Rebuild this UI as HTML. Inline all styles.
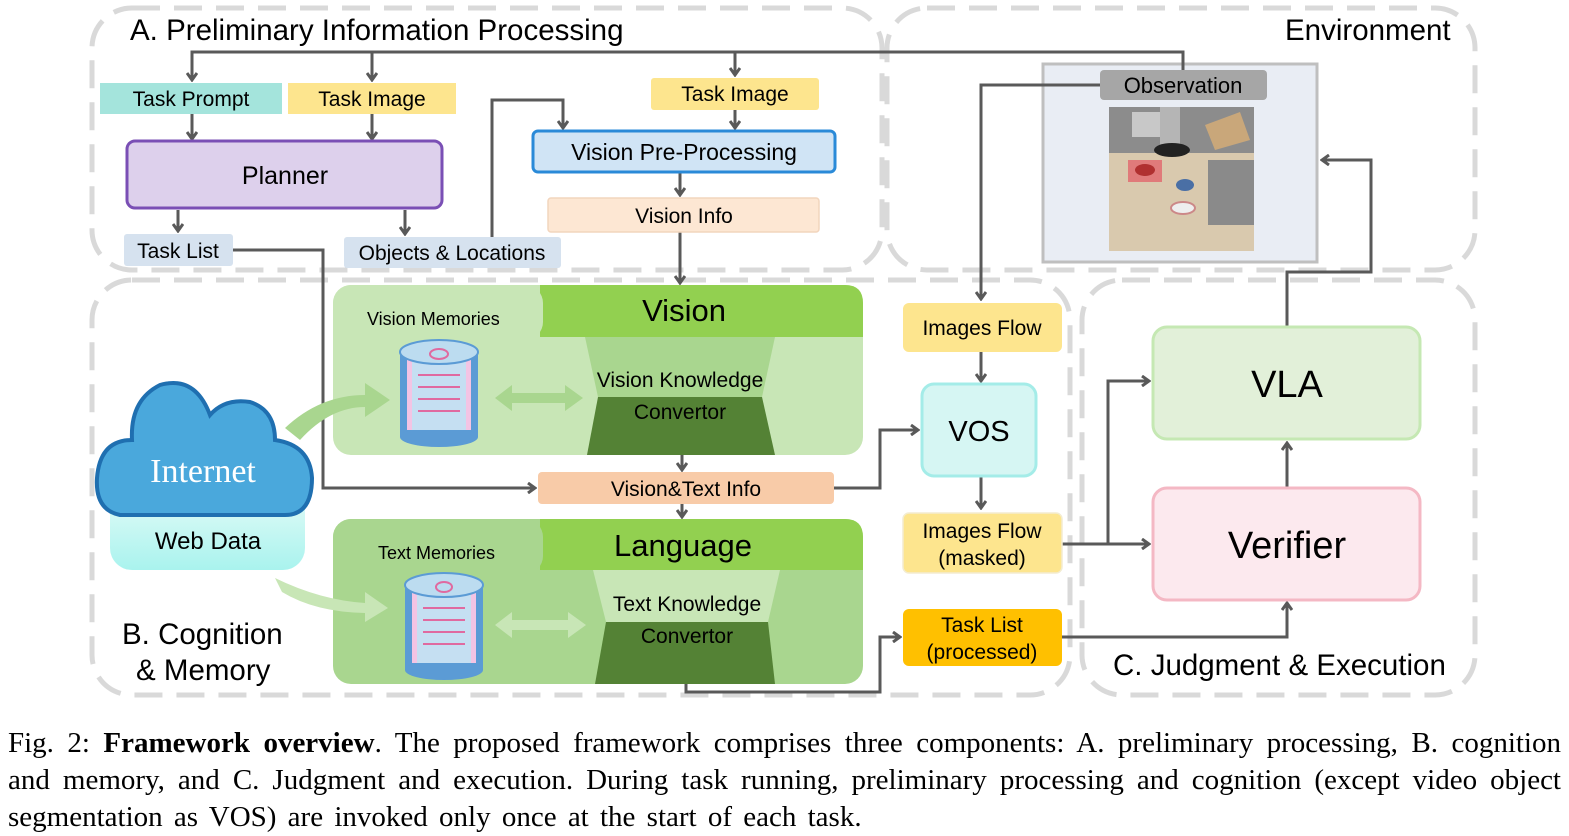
<!DOCTYPE html>
<html><head><meta charset="utf-8"><style>
html,body{margin:0;padding:0;background:#fff;}
svg{display:block;}
.t{font-family:"Liberation Sans",sans-serif;fill:#000;}
.cap{position:absolute;left:8px;width:1553px;font-family:"Liberation Serif",serif;font-size:29px;line-height:37px;text-align:justify;text-align-last:justify;color:#000;white-space:nowrap;}
</style></head><body>
<div style="position:relative;width:1569px;height:836px;overflow:hidden">
<svg width="1569" height="836" viewBox="0 0 1569 836" xmlns="http://www.w3.org/2000/svg">
<defs>
<marker id="a" markerWidth="10" markerHeight="12" refX="8" refY="6" orient="auto" markerUnits="userSpaceOnUse">
<polyline points="1,1 8,6 1,11" fill="none" stroke="#595959" stroke-width="3"/>
</marker>
<linearGradient id="wd" x1="0" y1="0" x2="0" y2="1"><stop offset="0" stop-color="#e4fbf7"/><stop offset="1" stop-color="#a9f3ee"/></linearGradient>
</defs>
<g fill="none" stroke="#d9d9d9" stroke-width="5" stroke-dasharray="28 14">
<rect x="92" y="8" width="790" height="262" rx="40"/>
<rect x="887" y="8" width="588" height="262" rx="40"/>
<rect x="92" y="280" width="978" height="415" rx="40"/>
<rect x="1082" y="280" width="393" height="415" rx="40"/>
</g>
<text class="t" x="130" y="40" font-size="29.5">A. Preliminary Information Processing</text>
<text class="t" x="1285" y="40" font-size="29.5">Environment</text>

<rect x="1043" y="64" width="274" height="198" fill="#e9edf4" stroke="#bfbfbf" stroke-width="3"/>
<rect x="1109" y="107" width="145" height="144" fill="#d9c9ae"/>
<rect x="1109" y="107" width="145" height="46" fill="#8c8c8c"/>
<rect x="1132" y="112" width="30" height="25" fill="#c8c8c8"/>
<rect x="1160" y="107" width="20" height="45" fill="#b5b5b5"/>
<ellipse cx="1172" cy="150" rx="18" ry="7" fill="#222"/>
<rect x="1128" y="160" width="34" height="22" fill="#e07a7a"/>
<ellipse cx="1145" cy="170" rx="10" ry="6" fill="#b03030"/>
<ellipse cx="1185" cy="185" rx="9" ry="6" fill="#4a6fa5"/>
<rect x="1208" y="160" width="46" height="65" fill="#8a8a8a"/>
<path d="M1205 125 L1240 112 L1250 140 L1215 150 Z" fill="#c9a77a"/>
<ellipse cx="1183" cy="208" rx="12" ry="6" fill="#eee" stroke="#c88" stroke-width="2"/>
<rect x="1100" y="70" width="167" height="30" rx="4" fill="#a6a6a6"/>
<text class="t" x="1183" y="93" font-size="22" text-anchor="middle">Observation</text>

<g fill="none" stroke="#595959" stroke-width="3">
<polyline points="1183,70 1183,52 192,52 192,80" marker-end="url(#a)"/>
<line x1="372" y1="52" x2="372" y2="80" marker-end="url(#a)"/>
<line x1="735" y1="52" x2="735" y2="75" marker-end="url(#a)"/>
<line x1="192" y1="114" x2="192" y2="139" marker-end="url(#a)"/>
<line x1="372" y1="114" x2="372" y2="139" marker-end="url(#a)"/>
<line x1="178" y1="210" x2="178" y2="231" marker-end="url(#a)"/>
<line x1="405" y1="210" x2="405" y2="234" marker-end="url(#a)"/>
<polyline points="492,237 492,100 563,100 563,128" marker-end="url(#a)"/>
<line x1="735" y1="110" x2="735" y2="128" marker-end="url(#a)"/>
<line x1="680" y1="173" x2="680" y2="195" marker-end="url(#a)"/>
<line x1="680" y1="232" x2="680" y2="283" marker-end="url(#a)"/>
<polyline points="233,250 323,250 323,488 535,488" marker-end="url(#a)"/>
<line x1="682" y1="455" x2="682" y2="470" marker-end="url(#a)"/>
<line x1="682" y1="504" x2="682" y2="517" marker-end="url(#a)"/>
<polyline points="834,488 880,488 880,430 918,430" marker-end="url(#a)"/>
<polyline points="686,684 686,692 880,692 880,637 900,637" marker-end="url(#a)"/>
<polyline points="1100,85 981,85 981,299" marker-end="url(#a)"/>
<line x1="981" y1="352" x2="981" y2="381" marker-end="url(#a)"/>
<line x1="981" y1="476" x2="981" y2="508" marker-end="url(#a)"/>
<line x1="1062" y1="544" x2="1149" y2="544" marker-end="url(#a)"/>
<polyline points="1108,544 1108,381 1149,381" marker-end="url(#a)"/>
<line x1="1287" y1="487" x2="1287" y2="443" marker-end="url(#a)"/>
<polyline points="1062,637 1287,637 1287,603" marker-end="url(#a)"/>
<polyline points="1287,327 1287,272 1371,272 1371,160 1322,160" marker-end="url(#a)"/>
</g>

<rect x="100" y="83" width="182" height="31" fill="#a4e4dc"/>
<text class="t" x="191" y="106" font-size="21" text-anchor="middle">Task Prompt</text>
<rect x="288" y="83" width="168" height="31" fill="#fde58e"/>
<text class="t" x="372" y="106" font-size="21" text-anchor="middle">Task Image</text>
<rect x="127" y="141" width="315" height="67" rx="8" fill="#ddd0ec" stroke="#7a4fb5" stroke-width="3"/>
<text class="t" x="285" y="184" font-size="25" text-anchor="middle">Planner</text>
<rect x="124" y="234" width="109" height="32" rx="3" fill="#d6e2ef"/>
<text class="t" x="178" y="258" font-size="21" text-anchor="middle">Task List</text>
<rect x="344" y="237" width="217" height="31" rx="3" fill="#d6e2ef"/>
<text class="t" x="452" y="260" font-size="21" text-anchor="middle">Objects &amp; Locations</text>
<rect x="651" y="78" width="168" height="32" rx="3" fill="#fde58e"/>
<text class="t" x="735" y="101" font-size="21" text-anchor="middle">Task Image</text>
<rect x="533" y="131" width="302" height="41" rx="5" fill="#d0e4f5" stroke="#2a8ad8" stroke-width="3"/>
<text class="t" x="684" y="160" font-size="23" text-anchor="middle">Vision Pre-Processing</text>
<rect x="548" y="198" width="271" height="34" rx="3" fill="#fde7d3" stroke="#f2d5bd" stroke-width="1.5"/>
<text class="t" x="684" y="223" font-size="21" text-anchor="middle">Vision Info</text>

<rect x="333" y="285" width="530" height="170" rx="18" fill="#c8e6b6"/>
<path d="M540 285 H845 Q863 285 863 303 V337 H540 Z" fill="#92d050"/>
<rect x="333" y="285" width="210" height="55" rx="18" fill="#c8e6b6"/>
<polygon points="585,337 775,337 762,397 598,397" fill="#a9d68f"/>
<polygon points="598,397 762,397 775,455 587,455" fill="#548235"/>
<text class="t" x="367" y="325" font-size="18">Vision Memories</text>
<text class="t" x="684" y="321" font-size="31" text-anchor="middle">Vision</text>
<text class="t" x="680" y="387" font-size="21" text-anchor="middle">Vision Knowledge</text>
<text class="t" x="680" y="419" font-size="21" text-anchor="middle">Convertor</text>
<rect x="400" y="352" width="78" height="85" fill="#5b9bd5"/>
<ellipse cx="439" cy="437" rx="39" ry="10" fill="#5b9bd5"/>
<rect x="407" y="360" width="64" height="70" fill="#f3c4e4"/>
<rect x="412" y="360" width="54" height="70" fill="#c5dff2"/>
<g stroke="#e06aa0" stroke-width="2"><line x1="418" y1="375" x2="460" y2="375"/><line x1="418" y1="387" x2="460" y2="387"/><line x1="418" y1="399" x2="460" y2="399"/><line x1="418" y1="411" x2="460" y2="411"/></g>
<ellipse cx="439" cy="352" rx="39" ry="12" fill="#bcdcf0" stroke="#5b9bd5" stroke-width="2"/>
<ellipse cx="439" cy="354" rx="9" ry="5" fill="none" stroke="#e06aa0" stroke-width="2"/>
<path d="M495 398 L512 385 V393 H565 V385 L583 398 L565 411 V403 H512 V411 Z" fill="#a9d68f"/>
<path d="M285 428 Q320 395 365 395 V383 L390 400 L365 417 V407 Q330 407 300 440 Z" fill="#a9d68f"/>

<rect x="538" y="472" width="296" height="32" rx="4" fill="#f8cba8"/>
<text class="t" x="686" y="496" font-size="21" text-anchor="middle">Vision&amp;Text Info</text>

<rect x="333" y="519" width="530" height="165" rx="18" fill="#a9d68f"/>
<path d="M540 519 H845 Q863 519 863 537 V570 H540 Z" fill="#92d050"/>
<rect x="333" y="519" width="210" height="55" rx="18" fill="#a9d68f"/>
<polygon points="593,570 780,570 768,622 606,622" fill="#c8e6b6"/>
<polygon points="606,622 768,622 775,684 595,684" fill="#548235"/>
<text class="t" x="378" y="559" font-size="18">Text Memories</text>
<text class="t" x="683" y="556" font-size="31" text-anchor="middle">Language</text>
<text class="t" x="687" y="611" font-size="21" text-anchor="middle">Text Knowledge</text>
<text class="t" x="687" y="643" font-size="21" text-anchor="middle">Convertor</text>
<rect x="405" y="585" width="78" height="85" fill="#5b9bd5"/>
<ellipse cx="444" cy="670" rx="39" ry="10" fill="#5b9bd5"/>
<rect x="412" y="593" width="64" height="70" fill="#f3c4e4"/>
<rect x="417" y="593" width="54" height="70" fill="#c5dff2"/>
<g stroke="#e06aa0" stroke-width="2"><line x1="423" y1="608" x2="465" y2="608"/><line x1="423" y1="620" x2="465" y2="620"/><line x1="423" y1="632" x2="465" y2="632"/><line x1="423" y1="644" x2="465" y2="644"/></g>
<ellipse cx="444" cy="585" rx="39" ry="12" fill="#bcdcf0" stroke="#5b9bd5" stroke-width="2"/>
<ellipse cx="444" cy="587" rx="8" ry="5" fill="none" stroke="#e06aa0" stroke-width="2"/>
<path d="M495 625 L512 612 V620 H568 V612 L586 625 L568 638 V630 H512 V638 Z" fill="#c8e6b6"/>
<path d="M275 578 Q320 600 365 603 V592 L388 608 L365 622 V613 Q315 612 282 592 Z" fill="#c8e6b6"/>

<rect x="110" y="490" width="195" height="80" rx="22" fill="url(#wd)"/>
<path d="M120 515 Q95 510 97 478 Q100 440 132 440 Q130 400 160 385 Q195 375 210 415 Q225 398 250 402 Q275 410 275 440 Q310 445 312 478 Q312 515 285 515 Z" fill="#4aa8dc" stroke="#1f6fb0" stroke-width="4"/>
<text x="203" y="482" font-family="Liberation Serif,serif" font-size="34" fill="#fff" text-anchor="middle">Internet</text>
<text class="t" x="208" y="549" font-size="24" text-anchor="middle">Web Data</text>
<text class="t" x="122" y="644" font-size="29.5">B. Cognition</text>
<text class="t" x="136" y="680" font-size="29.5">&amp; Memory</text>

<rect x="903" y="303" width="159" height="49" rx="6" fill="#fde58e"/>
<text class="t" x="982" y="335" font-size="21" text-anchor="middle">Images Flow</text>
<rect x="922" y="384" width="114" height="92" rx="12" fill="#d6f6f3" stroke="#a4ece8" stroke-width="3"/>
<text class="t" x="979" y="441" font-size="29" text-anchor="middle">VOS</text>
<rect x="903" y="513" width="159" height="60" rx="6" fill="#fde58e" stroke="#f3ecd0" stroke-width="1.5"/>
<text class="t" x="982" y="538" font-size="21" text-anchor="middle">Images Flow</text>
<text class="t" x="982" y="565" font-size="21" text-anchor="middle">(masked)</text>
<rect x="903" y="609" width="159" height="57" rx="6" fill="#ffc000"/>
<text class="t" x="982" y="632" font-size="21" text-anchor="middle">Task List</text>
<text class="t" x="982" y="659" font-size="21" text-anchor="middle">(processed)</text>
<rect x="1153" y="327" width="267" height="112" rx="14" fill="#e2f0d9" stroke="#c5e8b3" stroke-width="3"/>
<text class="t" x="1287" y="397" font-size="38" text-anchor="middle">VLA</text>
<rect x="1153" y="488" width="267" height="112" rx="14" fill="#fce9ee" stroke="#f4b8c4" stroke-width="3"/>
<text class="t" x="1287" y="558" font-size="38" text-anchor="middle">Verifier</text>
<text class="t" x="1113" y="675" font-size="29.5">C. Judgment &amp; Execution</text>
</svg>
<div class="cap" style="top:725px">Fig. 2: <b>Framework overview</b>. The proposed framework comprises three components: A. preliminary processing, B. cognition</div>
<div class="cap" style="top:762px">and memory, and C. Judgment and execution. During task running, preliminary processing and cognition (except video object</div>
<div class="cap" style="top:799px;text-align-last:left;width:auto;word-spacing:4px">segmentation as VOS) are invoked only once at the start of each task.</div>
</div>
</body></html>
